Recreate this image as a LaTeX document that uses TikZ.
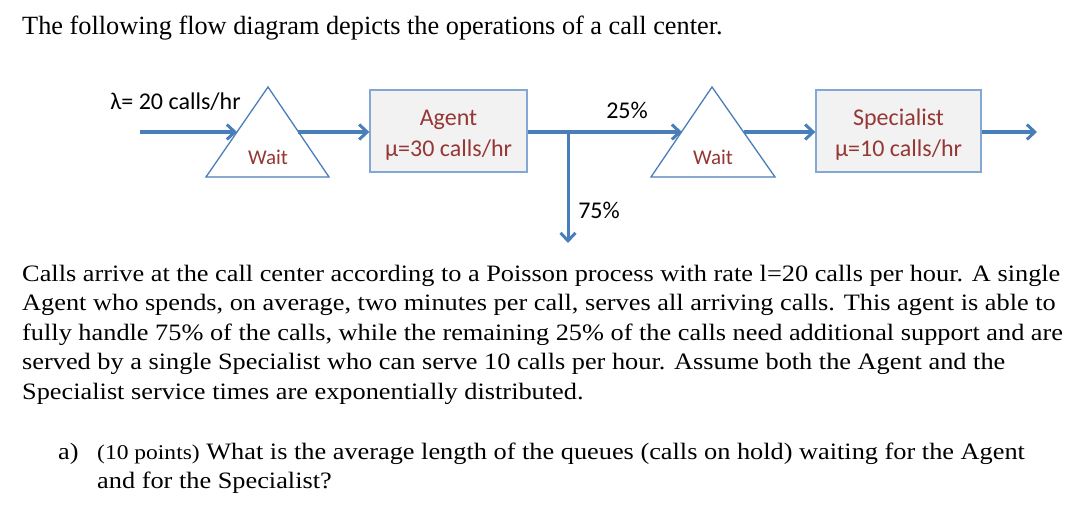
\documentclass[tikz,border=0pt]{standalone}
\usepackage{fontspec}
\setmainfont{Liberation Serif}
\newfontfamily\bodyfont[FakeStretch=1.12]{Liberation Serif}
\newfontfamily\diafont{Carlito}
\usepackage{tikz}
\usetikzlibrary{calc,positioning,arrows.meta}
\definecolor{flowblue}{HTML}{4A7EBB}
\definecolor{boxblue}{HTML}{84A8D4}
\definecolor{waitred}{HTML}{953735}
\definecolor{boxgray}{HTML}{F2F2F2}

\begin{document}
\begin{tikzpicture}[x=1pt,y=-1pt, >={Straight Barb[length=8pt,width=15pt]},
    flow/.style={->,draw=flowblue,line width=3pt},
    queue/.style={draw=flowblue,line width=1.3pt,line join=miter},
    server/.style={draw=boxblue,fill=boxgray,line width=1.3pt,minimum height=82pt},
    srvtext/.style={align=center,text=waitred,yshift=-4pt,font=\diafont\fontsize{24}{29}\selectfont},
    lbl/.style={font=\diafont\fontsize{24}{28}\selectfont,inner sep=0pt},
    wait/.style={font=\diafont\fontsize{21}{24}\selectfont,text=waitred,inner sep=0pt},
    txt/.style={anchor=base west,inner sep=0pt,font=\bodyfont\fontsize{23.5}{29}\selectfont}]
  \path[fill=white,use as bounding box] (0,0) rectangle (1070,516);

  % title
  \node[txt,font=\fontsize{26.3}{30}\selectfont] (title) at (22,35) {The following flow diagram depicts the operations of a call center.};

  % queues
  \draw[queue] (268,87) -- (329,177) -- (206,177) -- cycle;
  \draw[queue] (712,87) -- (775,177) -- (651,177) -- cycle;
  \node[wait] (w1) at (268,157) {Wait};
  \node[wait] (w2) at (713,157) {Wait};

  \coordinate (src) at (140,132);
  \coordinate (q1w) at (237,132);
  \coordinate (q1e) at (298,132);
  \coordinate (q2w) at (682,132);
  \coordinate (q2e) at (744,132);
  \coordinate (split) at (568,132);
  \coordinate (done) at (568,243);
  \coordinate (sink) at (1037,132);

  % servers
  \node[server,minimum width=157pt,label={[srvtext]center:Agent\\[2pt]\textmu=30 calls/hr}] (agent) at (448.5,131) {};
  \node[server,minimum width=165pt,label={[srvtext]center:Specialist\\[2pt]\textmu=10 calls/hr}] (spec) at (898.5,131) {};

  \draw[flow] (src) -- (q1w);
  \draw[flow] (q1e) -- (q1e -| agent.west);
  \draw[flow] (agent.east |- split) -- (q2w);
  \draw[flow] (split) -- (done);
  \draw[flow] (q2e) -- (q2e -| spec.west);
  \draw[flow] (spec.east |- sink) -- (sink);

  \node[lbl] (rate) at (175.5,102) {λ= 20 calls/hr};
  \node[lbl] (p25) at (627,110) {25\%};
  \node[lbl] (p75) at (599,210) {75\%};

  % text
  \node[txt] (l1) at (22,281) {Calls arrive at the call center according to a Poisson process with rate l=20 calls per hour. A single};
  \node[txt] (l2) at (22,310.5) {Agent who spends, on average, two minutes per call, serves all arriving calls. This agent is able to};
  \node[txt] (l3) at (22,340) {fully handle 75\% of the calls, while the remaining 25\% of the calls need additional support and are};
  \node[txt] (l4) at (22,369.5) {served by a single Specialist who can serve 10 calls per hour. Assume both the Agent and the};
  \node[txt] (l5) at (22,399) {Specialist service times are exponentially distributed.};

  \node[txt] (qa) at (58,459) {a)};
  \node[txt] (qa1) at (97,459) {{\fontsize{21}{24}\selectfont(10 points)} What is the average length of the queues (calls on hold) waiting for the Agent};
  \node[txt] (qa2) at (97,488) {and for the Specialist?};
\end{tikzpicture}
\end{document}
